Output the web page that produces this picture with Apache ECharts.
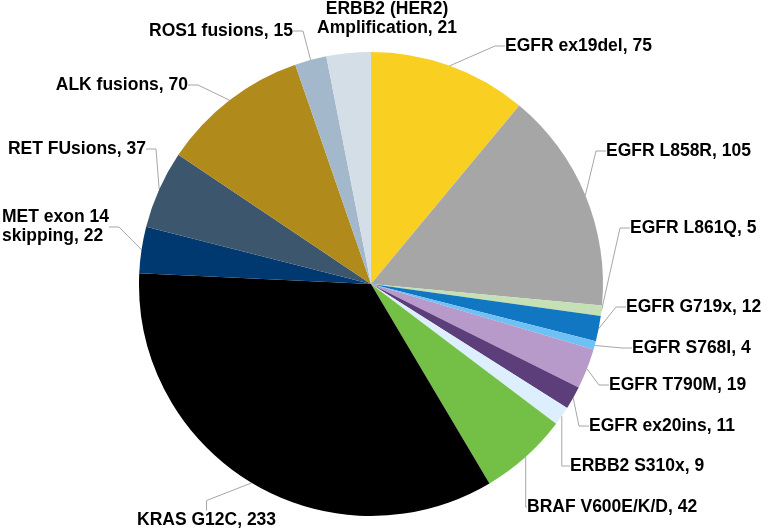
<!DOCTYPE html>
<html><head><meta charset="utf-8">
<script src="https://cdn.jsdelivr.net/npm/echarts@6/dist/echarts.min.js"></script>
<style>html,body{margin:0;padding:0;background:#fff}#c{width:761px;height:532px}</style>
</head><body><div id="c"></div>
<script>
const categories = ["EGFR ex19del","EGFR L858R","EGFR L861Q","EGFR G719x","EGFR S768I","EGFR T790M","EGFR ex20ins","ERBB2 S310x","BRAF V600E/K/D","KRAS G12C","MET exon 14\nskipping","RET FUsions","ALK fusions","ROS1 fusions","ERBB2 (HER2)\nAmplification"];
const values = [75,105,5,12,4,19,11,9,42,233,22,37,70,15,21];
const colors = ["#F9CF22","#A6A6A6","#C5E0B4","#1177C2","#6EC1F5","#B79AC9","#5B3E7A","#DDEEFC","#74C047","#000000","#003870","#3C566E","#B08A1A","#A4B8CC","#D3DEE7"];
// label placement (layout only): [x, y, align]
const labelSpots = [
  [505,46,'left'],[606,151,'left'],[630,228,'left'],[626,307,'left'],[632,348,'left'],
  [609,385,'left'],[589,426,'left'],[570,466,'left'],[527,507,'left'],[137,520,'left'],
  [2,227,'left'],[146,149,'right'],[188,85,'right'],[293,31,'right'],[387,19,'center']
];
const chart = echarts.init(document.getElementById('c'));
chart.setOption({
  animation:false,
  series:[{
    type:'pie',
    center:[371,284],
    radius:[0,232],
    startAngle:90,
    clockwise:true,
    avoidLabelOverlap:false,
    data: categories.map((n,i)=>({name:n,value:values[i],itemStyle:{color:colors[i]},
      labelLine:{show:i!==categories.length-1}})),
    itemStyle:{borderWidth:0},
    label:{formatter:p=>p.name+', '+p.value,fontFamily:'Liberation Sans, Arial',fontWeight:'bold',fontSize:17.5,color:'#000',lineHeight:19,align:'left'},
    labelLine:{length:10,length2:10,lineStyle:{color:'#A6A6A6',width:1}},
    labelLayout:function(p){
      const s = labelSpots[p.dataIndex];
      return {x:s[0],y:s[1],align:s[2],verticalAlign:'middle'};
    }
  }]
});
</script></body></html>
